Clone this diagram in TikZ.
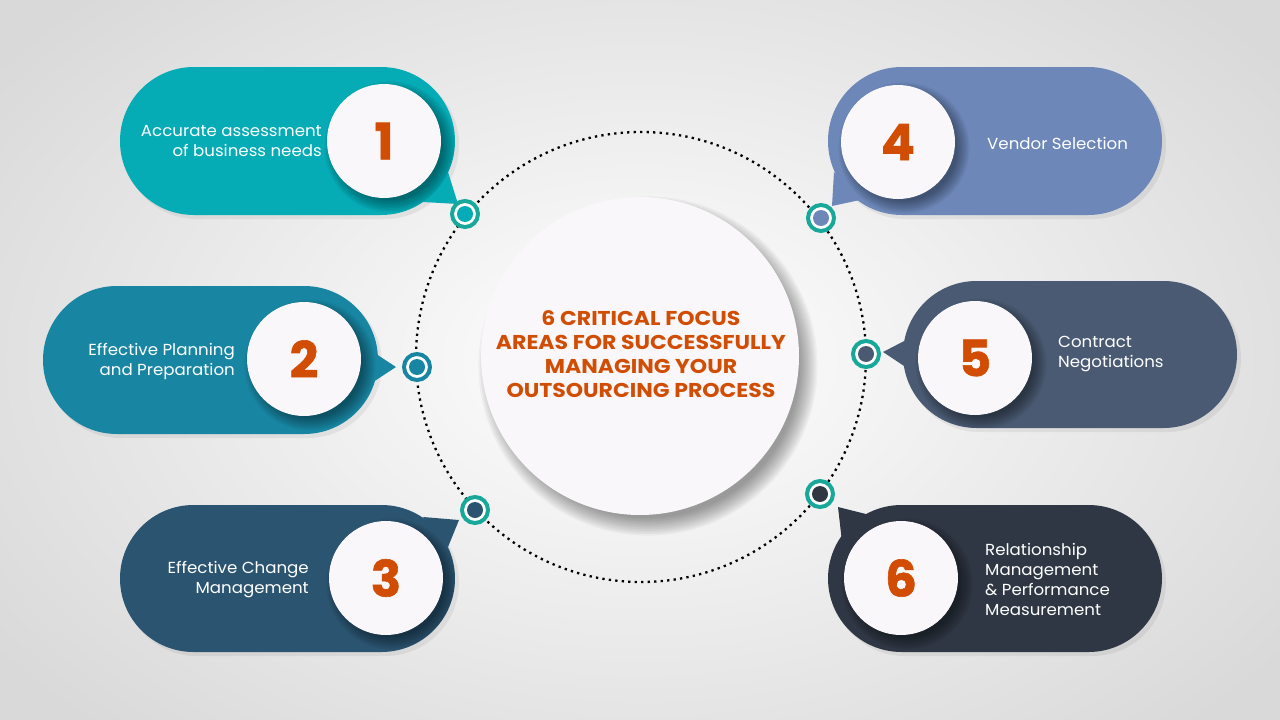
\documentclass[tikz,border=0pt]{standalone}
\usepackage{fontspec}
\setmainfont{Poppins}
\newfontfamily\titlefont{Poppins}[FakeStretch=1.1]
\newfontfamily\pillfont{Poppins}[FakeStretch=1.04]
\newfontfamily\numfont{Poppins}[FakeBold=1.2]
\usetikzlibrary{calc}
\definecolor{bggray}{HTML}{D9D9D9}
\definecolor{pone}{HTML}{05ABB5}
\definecolor{ptwo}{HTML}{1886A3}
\definecolor{pthree}{HTML}{2B5470}
\definecolor{pfour}{HTML}{6C87B8}
\definecolor{pfive}{HTML}{4A5A72}
\definecolor{psix}{HTML}{2E3743}
\definecolor{ringteal}{HTML}{17A899}
\definecolor{orng}{HTML}{D24D04}
\definecolor{cwhite}{HTML}{F9F7F9}
\tikzset{
  numcirc/.style={circle,fill=cwhite,minimum size=114,inner sep=0,
    font=\numfont\fontsize{50}{50}\selectfont\bfseries,text=orng},
  ptext/.style={font=\pillfont\fontsize{16}{20}\selectfont,text=white,inner sep=0},
  marker/.style={circle,fill=white,line width=4,minimum size=26,inner sep=0},
  mdot/.style={circle,minimum size=16,inner sep=0},
  dotline/.style={line width=2.3,dash pattern=on 2.3 off 4.2,black},
  pillshadow/.style={black,opacity=0.06},
}
\newcommand{\circshadow}[3]{%
  \foreach \k in {0,...,9} {\fill[black,opacity=0.045] (#1+6,#2+6) circle[radius=#3-4+\k*1.4];}}
\begin{document}
\begin{tikzpicture}[x=1pt,y=-1pt]
\useasboundingbox (0,0) rectangle (1280,720);
\shade[inner color=white,outer color=bggray] (-150,-150) rectangle (1430,870);

% dotted ring
\draw[dotline] (641,357) circle[radius=225];

% pill shadows
\fill[pillshadow, rounded corners=73.9] (123,71) rectangle (459,219);
\fill[pillshadow, rounded corners=73.9] (46,290) rectangle (382,438);
\fill[pillshadow, rounded corners=73.5] (123,509) rectangle (459,656);
\fill[pillshadow, rounded corners=73.9] (831,71) rectangle (1166,219);
\fill[pillshadow, rounded corners=73.5] (906,285) rectangle (1241,432);
\fill[pillshadow, rounded corners=73.5] (831,509) rectangle (1166,656);

% pill 1
\fill[pone, rounded corners=73.9] (120,67) rectangle (455,215);
\fill[pone] (423,202) -- (458,204) -- (448,172) -- cycle;
\begin{scope}
  \clip[rounded corners=73.9] (120,67) rectangle (455,215);
  \circshadow{384}{141}{57}
\end{scope}
\node[numcirc] (c1) at (384,141) {1};
\node[ptext,anchor=east,align=right] (t1) at (322,141) {Accurate assessment\\of business needs};

% pill 2
\fill[ptwo, rounded corners=73.9] (43,286) rectangle (378,434);
\fill[ptwo] (370,350) -- (396,367) -- (370,384) -- cycle;
\begin{scope}
  \clip[rounded corners=73.9] (43,286) rectangle (378,434);
  \circshadow{304}{359}{57}
\end{scope}
\node[numcirc] (c2) at (304,359) {2};
\node[ptext,anchor=east,align=right] (t2) at (235,361) {Effective Planning\\and Preparation};

% pill 3
\fill[pthree, rounded corners=73.5] (120,505) rectangle (455,652);
\fill[pthree] (448,547) -- (459,520) -- (423,517) -- cycle;
\begin{scope}
  \clip[rounded corners=73.5] (120,505) rectangle (455,652);
  \circshadow{386}{578}{57}
\end{scope}
\node[numcirc] (c3) at (386,578) {3};
\node[ptext,anchor=east,align=right] (t3) at (309,580) {Effective Change\\Management};

% pill 4
\fill[pfour, rounded corners=73.9] (828,67) rectangle (1162,215);
\fill[pfour] (834,172) -- (832,206) -- (860,200) -- cycle;
\begin{scope}
  \clip[rounded corners=73.9] (828,67) rectangle (1162,215);
  \circshadow{898}{142}{57}
\end{scope}
\node[numcirc] (c4) at (898,142) {4};
\node[ptext,anchor=west,align=left] (t4) at (987,143) {Vendor Selection};

% pill 5
\fill[pfive, rounded corners=73.5] (903,281) rectangle (1237,428);
\fill[pfive] (910,338) -- (883,352) -- (910,370) -- cycle;
\begin{scope}
  \clip[rounded corners=73.5] (903,281) rectangle (1237,428);
  \circshadow{975}{358}{57}
\end{scope}
\node[numcirc] (c5) at (975,358) {5};
\node[ptext,anchor=west,align=left] (t5) at (1058,354) {Contract\\Negotiations};

% pill 6
\fill[psix, rounded corners=73.5] (828,505) rectangle (1162,652);
\fill[psix] (842,542) -- (838,507) -- (870,515) -- cycle;
\begin{scope}
  \clip[rounded corners=73.5] (828,505) rectangle (1162,652);
  \circshadow{901}{578}{57}
\end{scope}
\node[numcirc] (c6) at (901,578) {6};
\node[ptext,anchor=west,align=left] (t6) at (985,579) {Relationship\\Management\\\& Performance\\Measurement};

% hub
\foreach \k in {0,...,11} {\fill[black,opacity=0.035] (648,366) circle[radius=152+\k*1.6];}
\node[circle,fill=cwhite,minimum size=318,inner sep=0] (hub) at (640,356) {};
\node[font=\titlefont\fontsize{20}{24}\selectfont\bfseries,text=orng,align=center] (title) at (641,354)
  {6 CRITICAL FOCUS\\AREAS FOR SUCCESSFULLY\\MANAGING YOUR\\OUTSOURCING PROCESS};

% markers
\node[marker,draw=ringteal] (m1) at (465,214) {};
\node[mdot,fill=pone] at (m1) {};
\node[marker,draw=ptwo] (m2) at (417,367) {};
\node[mdot,fill=ptwo] at (m2) {};
\node[marker,draw=ringteal] (m3) at (475,510) {};
\node[mdot,fill=pthree] at (m3) {};
\node[marker,draw=ringteal] (m4) at (821,218) {};
\node[mdot,fill=pfour] at (m4) {};
\node[marker,draw=ringteal] (m5) at (866,354) {};
\node[mdot,fill=pfive] at (m5) {};
\node[marker,draw=ringteal] (m6) at (820,494) {};
\node[mdot,fill=psix] at (m6) {};
\end{tikzpicture}
\end{document}
